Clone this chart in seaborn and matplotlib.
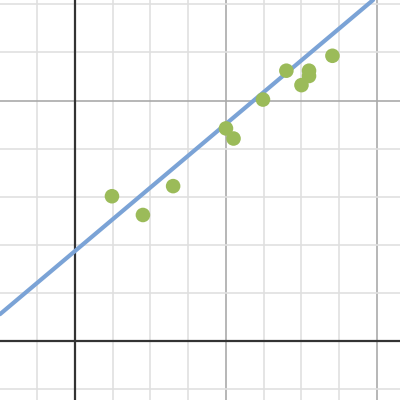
import matplotlib
matplotlib.use("Agg")
import matplotlib.pyplot as plt
import seaborn as sns
import numpy as np
import pandas as pd

# scatter data (x in units of 5 per minor grid cell, y 1 per cell)
x_vals = [4.9, 9.0, 13.0, 20.0, 21.0, 24.9, 28.0, 30.0, 31.0, 31.0, 34.1]
y_vals = [3.01, 2.62, 3.22, 4.42, 4.21, 5.02, 5.62, 5.32, 5.51, 5.62, 5.93]

# fitted line
intercept = 1.87
slope = 0.1322

df = pd.DataFrame({"x": x_vals, "y": y_vals})

sns.set_style("white")
fig = plt.figure(figsize=(4, 4), dpi=100)
ax = fig.add_axes([0, 0, 1, 1])

x_min, x_max = -9.93, 43.05
y_min, y_max = -1.227, 7.09

# grid
for gx in np.arange(-5, 45, 5):
    major = gx % 20 == 0
    ax.axvline(gx, color="#aaaaaa" if major else "#e0e0e0", lw=1.2, zorder=0)
for gy in np.arange(-1, 8, 1):
    major = gy % 5 == 0
    ax.axhline(gy, color="#aaaaaa" if major else "#e0e0e0", lw=1.2, zorder=0)
ax.axvline(0, color="#333333", lw=1.6, zorder=1)
ax.axhline(0, color="#333333", lw=1.6, zorder=1)

ax.axline((0, intercept), slope=slope, color="#7ba3d6", lw=3, zorder=2)
sns.scatterplot(data=df, x="x", y="y", ax=ax, color="#9bbb59", s=110,
                edgecolor="none", zorder=3)

ax.set_xlim(x_min, x_max)
ax.set_ylim(y_min, y_max)
ax.set_xticks([])
ax.set_yticks([])
ax.set_xlabel("")
ax.set_ylabel("")
for sp in ax.spines.values():
    sp.set_visible(False)

fig.savefig("out.png", dpi=100)
